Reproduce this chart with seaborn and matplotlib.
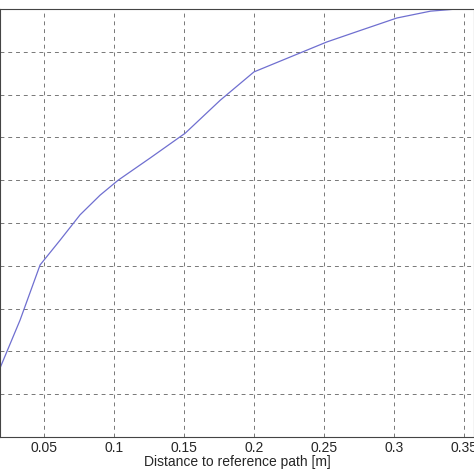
import numpy as np
import seaborn as sns
import matplotlib.pyplot as plt

sns.set_style("white")
plt.rcParams['font.family'] = ['Liberation Sans', 'DejaVu Sans']

dist = [0.0, 0.0188, 0.0331, 0.0474, 0.0617, 0.0759, 0.0902, 0.1031, 0.126, 0.151,
        0.176, 0.200, 0.226, 0.252, 0.276, 0.302, 0.326, 0.345, 0.357, 0.4]
frac = [0.0, 0.161, 0.273, 0.402, 0.460, 0.519, 0.565, 0.600, 0.652, 0.710,
        0.787, 0.853, 0.888, 0.923, 0.950, 0.979, 0.995, 1.0, 1.0, 1.0]
xticks = [0.05, 0.1, 0.15, 0.2, 0.25, 0.3, 0.35]
yticks = [0, 0.1, 0.2, 0.3, 0.4, 0.5, 0.6, 0.7, 0.8, 0.9, 1.0]

fig = plt.figure(figsize=(4.74, 4.74), dpi=100)
ax = fig.add_axes([0.0, 37 / 474, 1.0, 428 / 474])
sns.lineplot(x=dist, y=frac, ax=ax, color='#6f6fd0', linewidth=0.9)
ax.set_xlim(0.0188, 0.357)
ax.set_ylim(0, 1)
ax.set_xticks(xticks)
ax.set_xticklabels([str(t) for t in xticks])
ax.set_yticks(yticks)
ax.set_yticklabels([])
ax.grid(True, linestyle=(0, (4, 4)), color='#777777', linewidth=0.7)
for s in ax.spines.values():
    s.set_color('#444444')
    s.set_linewidth(0.8)
ax.tick_params(axis='x', direction='in', length=4, labelsize=10, pad=3)
ax.set_xlabel('Distance to reference path [m]', fontsize=10, labelpad=0)
fig.savefig('out.png', dpi=100)
